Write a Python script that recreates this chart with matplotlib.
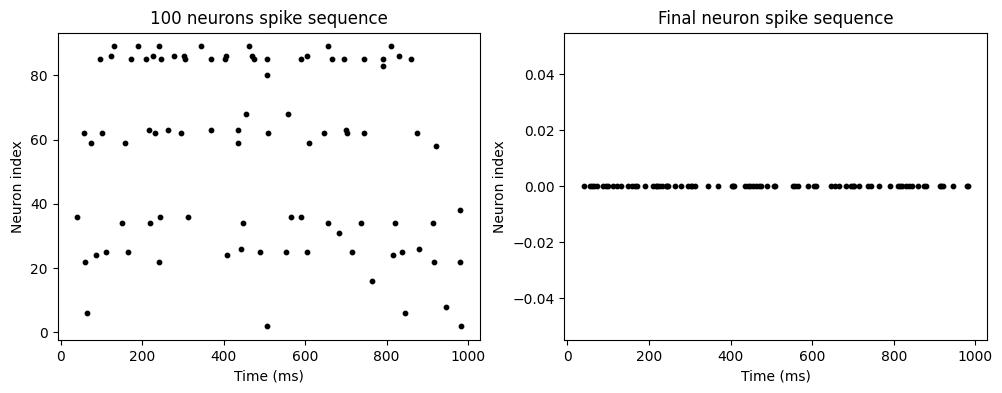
import matplotlib
matplotlib.use("Agg")
import matplotlib.pyplot as plt

# Tempos de disparo (ms) e índice do neurônio
spike_times = [40, 57, 60, 65, 74, 87, 96, 101, 111, 123, 131, 150, 158,
               165, 172, 190, 209, 217, 219, 226, 231, 241, 241, 244, 246,
               263, 278, 295, 302, 305, 312, 344, 369, 369, 403, 405, 408,
               435, 435, 442, 447, 455, 462, 469, 474, 489, 506, 506, 506,
               508, 553, 557, 565, 589, 589, 604, 604, 609, 646, 656, 656,
               665, 683, 695, 700, 702, 714, 737, 744, 744, 764, 791, 791,
               810, 815, 820, 830, 837, 845, 859, 874, 879, 913, 916, 921,
               945, 979, 979, 982]
neuron_ids = [36, 62, 22, 6, 59, 24, 85, 62, 25, 86, 89, 34, 59,
              25, 85, 89, 85, 63, 34, 86, 62, 89, 22, 36, 85,
              63, 86, 62, 86, 85, 36, 89, 85, 63, 85, 86, 24,
              63, 59, 26, 34, 68, 89, 86, 85, 25, 85, 80, 2,
              62, 25, 68, 36, 85, 36, 86, 25, 59, 62, 89, 34,
              85, 31, 85, 63, 62, 25, 34, 85, 62, 16, 85, 83,
              89, 24, 34, 86, 25, 6, 85, 62, 26, 34, 22, 58,
              8, 38, 22, 2]

# Sequência final (neurônio de saída): tempos de disparo únicos
final_times = [40, 57, 60, 65, 74, 87, 96, 101, 111, 123, 131, 150, 158, 165,
               172, 190, 209, 217, 219, 226, 231, 241, 244, 246, 263, 278,
               295, 302, 305, 312, 344, 369, 403, 405, 408, 435, 442, 447,
               455, 462, 469, 474, 489, 506, 508, 553, 557, 565, 589, 604,
               609, 646, 656, 665, 683, 695, 700, 702, 714, 737, 744, 764,
               791, 810, 815, 820, 830, 837, 845, 859, 874, 879, 913, 916,
               921, 945, 979, 982]
final_ids = [0] * len(final_times)

fig = plt.figure(figsize=(10.02, 3.93), dpi=100)
ax1 = fig.add_axes([0.0576, 0.1349, 0.4215, 0.7824])
ax2 = fig.add_axes([0.5632, 0.1349, 0.4222, 0.7824])

ax1.scatter(spike_times, neuron_ids, s=10, color='black')
ax1.set_title('100 neurons spike sequence')
ax1.set_xlabel('Time (ms)')
ax1.set_ylabel('Neuron index')

ax2.scatter(final_times, final_ids, s=10, color='black')
ax2.set_title('Final neuron spike sequence')
ax2.set_xlabel('Time (ms)')
ax2.set_ylabel('Neuron index')

fig.savefig('out.png', dpi=100)
